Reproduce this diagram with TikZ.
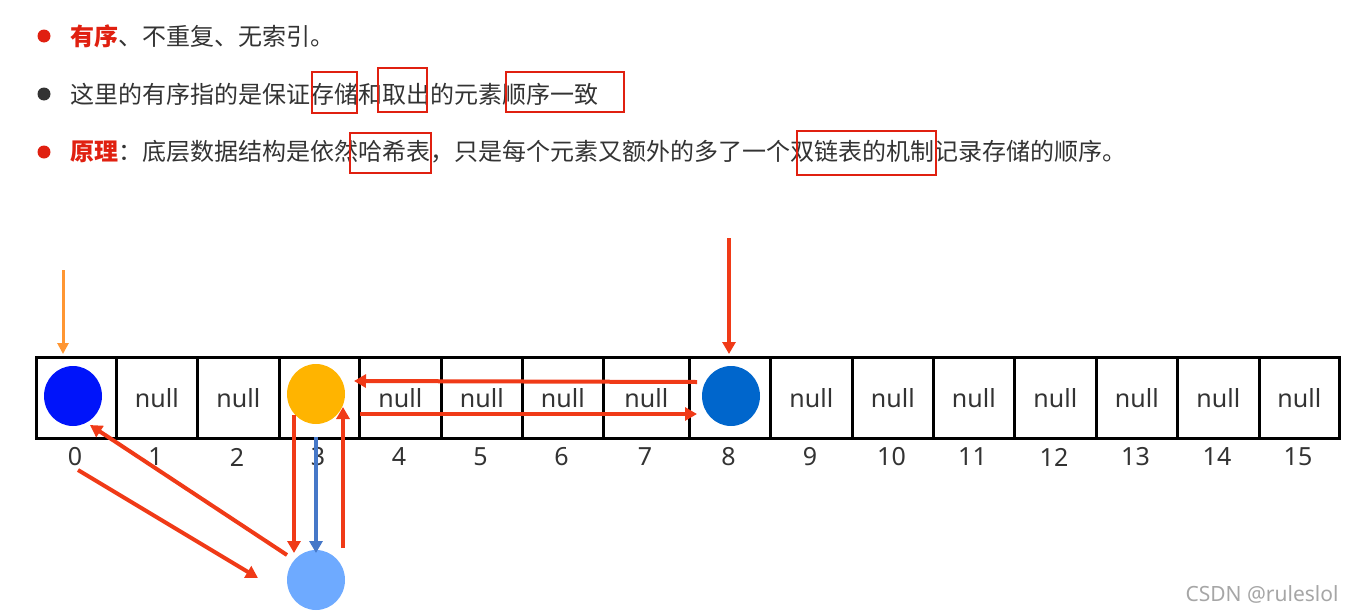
\documentclass[tikz,border=0pt]{standalone}
\usepackage{fontspec}
\setmainfont{Noto Sans}
\newfontfamily\cjk{Noto Sans CJK SC}
\usetikzlibrary{arrows.meta}
\definecolor{rd}{HTML}{F03A17}
\definecolor{hl}{HTML}{E02010}
\definecolor{tx}{HTML}{333333}
\tikzset{
 cell/.style={draw=black,line width=2.6pt,minimum width=81pt,minimum height=81pt,inner sep=0pt,font=\fontsize{25}{25}\selectfont,text=tx},
 idx/.style={font=\fontsize{25}{25}\selectfont,text=tx},
 ball/.style={ellipse,minimum width=58pt,minimum height=60pt,inner sep=0pt},
 rarr/.style={draw=rd,line width=4pt,-{Triangle[length=12pt,width=13pt]}},
 hbox/.style={draw=hl,line width=1.5pt},
 line/.style={font=\cjk\fontsize{24}{24}\selectfont,text=tx,anchor=west,inner sep=0pt},
 dot/.style={circle,minimum size=13pt,inner sep=0pt},
}
\usetikzlibrary{shapes.geometric}
\begin{document}
\begin{tikzpicture}[x=1pt,y=-1pt]
\useasboundingbox (0,0) rectangle (1345,616);
% text lines
\node[dot,fill=hl] (b1) at (44,36) {};
\node[line] (t1) at (70,36) {\textcolor{hl}{\textbf{有序}}、不重复、无索引。};
\node[dot,fill=tx] (b2) at (44,94) {};
\node[line] (t2) at (70,94) {这里的有序指的是保证存储和取出的元素顺序一致};
\node[dot,fill=hl] (b3) at (44,152) {};
\node[line] (t3) at (70,152) {\textcolor{hl}{\textbf{原理}}：底层数据结构是依然哈希表，只是每个元素又额外的多了一个双链表的机制记录存储的顺序。};
\draw[hbox] (312,72) rectangle (357,113);
\draw[hbox] (378,68) rectangle (427,112);
\draw[hbox] (506,72) rectangle (624,112);
\draw[hbox] (350,133) rectangle (431,173);
\draw[hbox] (797,131) rectangle (936,175);
% cells
\foreach \i/\x/\w/\t in {0/35/80/,1/115/81/null,2/196/82/null,3/278/80/,4/358/82/null,5/440/81/null,6/521/81/null,7/602/86/null,8/688/81/,9/769/82/null,10/851/81/null,11/932/81/null,12/1013/82/null,13/1095/81/null,14/1176/82/null,15/1258/80/null}{
  \node[cell,minimum width=\w pt,anchor=north west] (c\i) at (\x,356) {\t};
  \node[idx] (n\i) at (\x+\w/2,457) {\i};
}
% balls
\node[ball,fill={rgb,255:red,0;green,20;blue,250}] (p0) at (73,396) {};
\node[ball,fill={rgb,255:red,255;green,180;blue,0}] (p3) at (316,394) {};
\node[ball,fill={rgb,255:red,0;green,102;blue,204}] (p8) at (731,396) {};
\node[ball,fill={rgb,255:red,110;green,170;blue,255}] (pb) at (316,580) {};
% incoming arrows
\coordinate (o0) at (63,270); \coordinate (o0e) at (63,354);
\draw[draw={rgb,255:red,255;green,150;blue,50},line width=3pt,-{Triangle[length=11pt,width=11pt]}] (o0) -- (o0e);
\coordinate (o8) at (729,238); \coordinate (o8e) at (729,354);
\draw[rarr] (o8) -- (o8e);
% links
\coordinate (a1) at (697,382); \coordinate (a2) at (354,381);
\draw[rarr] (a1) -- (a2);
\coordinate (a3) at (360,414); \coordinate (a4) at (697,414);
\draw[rarr] (a3) -- (a4);
\coordinate (a5) at (294,415); \coordinate (a6) at (294,553);
\draw[rarr] (a5) -- (a6);
\coordinate (a7) at (343,548); \coordinate (a8) at (343,407);
\draw[rarr] (a7) -- (a8);
\coordinate (a9) at (316,437); \coordinate (a10) at (316,553);
\draw[draw={rgb,255:red,70;green,120;blue,200},line width=4pt,-{Triangle[length=12pt,width=13pt]}] (a9) -- (a10);
\coordinate (a11) at (287,555); \coordinate (a12) at (90,425);
\draw[rarr] (a11) -- (a12);
\coordinate (a13) at (78,470); \coordinate (a14) at (258,578);
\draw[rarr] (a13) -- (a14);
% watermark
\node[font=\fontsize{21}{21}\selectfont,text=gray!70,anchor=east] (wm) at (1342,594) {CSDN @ruleslol};
\end{tikzpicture}
\end{document}
